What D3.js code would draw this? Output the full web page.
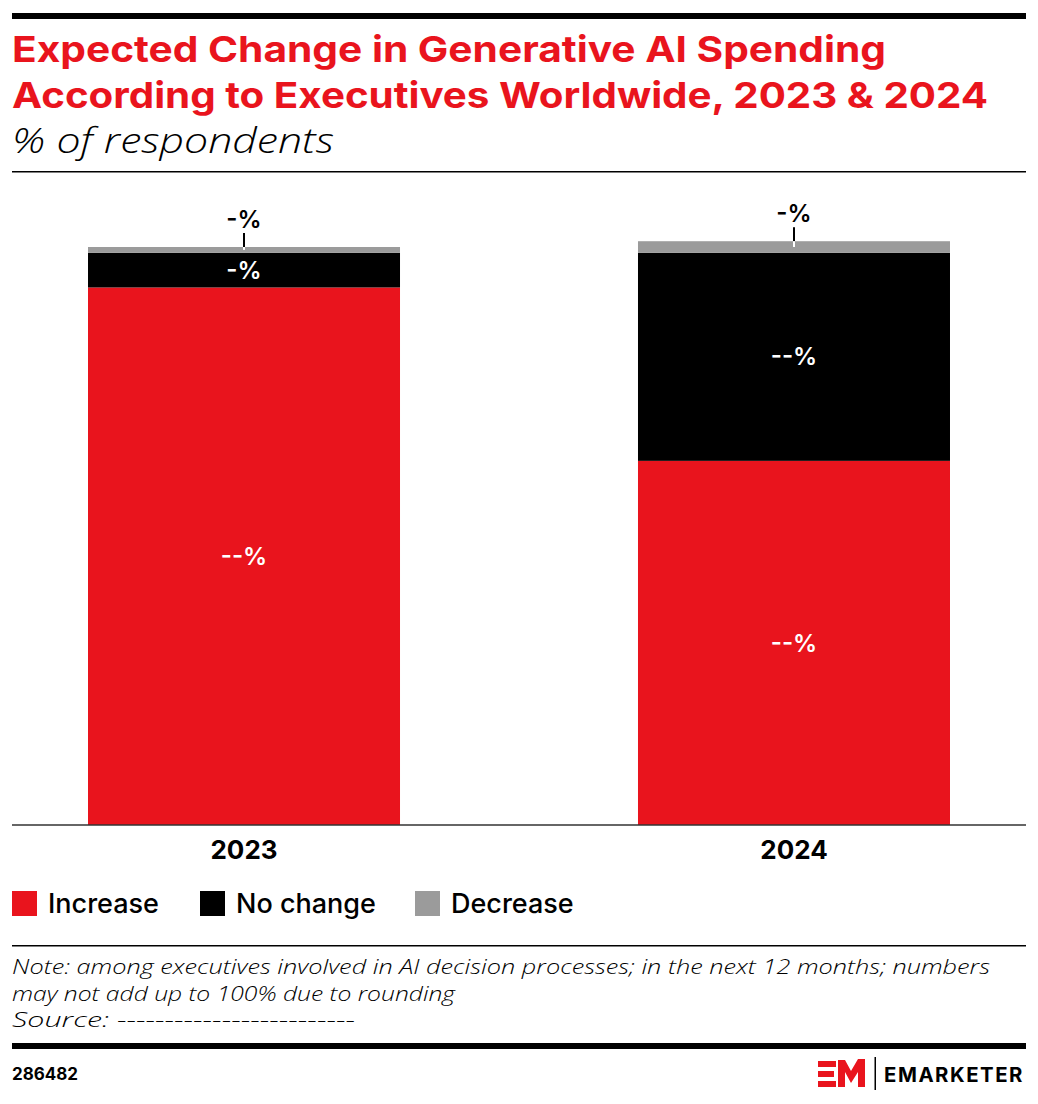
<!DOCTYPE html>
<html>
<head>
<meta charset="utf-8">
<script src="https://cdn.jsdelivr.net/npm/d3@7"></script>
<style>
  html, body { margin: 0; padding: 0; background: #fff; }
  svg { display: block; }
</style>
</head>
<body>
<svg id="chart" width="1038" height="1104"></svg>
<script>
// ---- data ----
const years = ["2023", "2024"];
const seriesNames = ["Increase", "No change", "Decrease"];
const increase = [93, 63];
const noChange = [6, 36];
const decrease = [1, 2];
const increaseLabels = ["--%", "--%"];
const noChangeLabels = ["-%", "--%"];
const decreaseLabels = ["-%", "-%"];
const seriesColors = ["#e9141d", "#000000", "#9b9b9b"];

const titleLines = ["Expected Change in Generative AI Spending",
                    "According to Executives Worldwide, 2023 & 2024"];
const subtitle = "% of respondents";
const noteLines = ["Note: among executives involved in AI decision processes; in the next 12 months; numbers",
                   "may not add up to 100% due to rounding",
                   "Source: -------------------------"];
const chartId = "286482";

// ---- setup ----
const svg = d3.select("#chart");
const FONT = "Inter, Roboto, sans-serif";
const IFONT = "'Open Sans', Lato, sans-serif";
const RED = "#e9141d";

function fitWidth(sel, w) {
  const node = sel.node();
  const cur = node.getComputedTextLength();
  if (Math.abs(cur - w) > 2) sel.attr("textLength", w).attr("lengthAdjust", "spacingAndGlyphs");
}

// top rule
svg.append("rect").attr("x", 12).attr("y", 13).attr("width", 1014).attr("height", 6).attr("fill", "#000");

// title
const titleTargets = [874, 976];
titleLines.forEach((t, i) => {
  const s = svg.append("text").attr("x", 12).attr("y", 62 + i * 46)
    .attr("font-family", FONT).attr("font-weight", 700).attr("font-size", 36)
    .attr("fill", RED).text(t);
  fitWidth(s, titleTargets[i]);
});
const sub = svg.append("text").attr("x", 12).attr("y", 153)
  .attr("font-family", IFONT).attr("font-style", "italic").attr("font-weight", 300)
  .attr("font-size", 34).attr("fill", "#000").text(subtitle);
fitWidth(sub, 322);

svg.append("rect").attr("x", 12).attr("y", 171).attr("width", 1014).attr("height", 1.5).attr("fill", "#000");

// ---- scales ----
const x = d3.scaleBand().domain(years).range([12, 1026]).paddingInner(0.4327).paddingOuter(0.1382);
const y = d3.scaleLinear().domain([0, 100]).range([825, 247]);

const rows = years.map((yr, i) => ({
  year: yr, "Increase": increase[i], "No change": noChange[i], "Decrease": decrease[i],
  labels: [increaseLabels[i], noChangeLabels[i], decreaseLabels[i]]
}));
const stacked = d3.stack().keys(seriesNames)(rows);

const g = svg.append("g");
stacked.forEach((layer, si) => {
  g.selectAll(null).data(layer).enter().append("rect")
    .attr("x", d => x(d.data.year))
    .attr("width", x.bandwidth())
    .attr("y", d => y(d[1]))
    .attr("height", d => y(d[0]) - y(d[1]))
    .attr("fill", seriesColors[si]);
});

// inside labels (Increase, No change)
[0, 1].forEach(si => {
  g.selectAll(null).data(stacked[si]).enter().append("text")
    .attr("x", d => x(d.data.year) + x.bandwidth() / 2)
    .attr("y", d => (y(d[0]) + y(d[1])) / 2)
    .attr("dy", "0.36em")
    .attr("text-anchor", "middle")
    .attr("font-family", FONT).attr("font-weight", 600).attr("font-size", 24)
    .attr("fill", "#fff")
    .text(d => d.data.labels[si]);
});

// Decrease labels outside with leader line
stacked[2].forEach(d => {
  const cx = x(d.data.year) + x.bandwidth() / 2;
  const top = y(d[1]);
  const mid = (y(d[0]) + y(d[1])) / 2;
  g.append("line").attr("x1", cx).attr("x2", cx).attr("y1", top - 14).attr("y2", top)
    .attr("stroke", "#000").attr("stroke-width", 2);
  g.append("line").attr("x1", cx).attr("x2", cx).attr("y1", top).attr("y2", mid)
    .attr("stroke", "#fff").attr("stroke-width", 2);
  g.append("text").attr("x", cx).attr("y", top - 19)
    .attr("text-anchor", "middle")
    .attr("font-family", FONT).attr("font-weight", 600).attr("font-size", 24)
    .attr("fill", "#000").text(d.data.labels[2]);
});

// x axis
const xAxis = svg.append("g").attr("transform", "translate(0,825)")
  .call(d3.axisBottom(x).tickSize(0).tickPadding(0));
xAxis.select(".domain").attr("d", "M12,0H1026").attr("stroke", "#333").attr("stroke-width", 1.5);
xAxis.selectAll(".tick text")
  .attr("y", 34).attr("dy", 0)
  .attr("font-family", FONT).attr("font-weight", 700).attr("font-size", 26).attr("fill", "#000");

// legend
const legendX = [12, 200, 415];
seriesNames.forEach((s, i) => {
  svg.append("rect").attr("x", legendX[i]).attr("y", 891).attr("width", 25).attr("height", 25)
    .attr("fill", seriesColors[i]);
  svg.append("text").attr("x", legendX[i] + 36).attr("y", 913)
    .attr("font-family", FONT).attr("font-weight", 500).attr("font-size", 27)
    .attr("fill", "#000").text(s);
});

// note
svg.append("rect").attr("x", 12).attr("y", 945).attr("width", 1014).attr("height", 1.5).attr("fill", "#000");
const noteTargets = [978, 443, 343];
noteLines.forEach((t, i) => {
  const s = svg.append("text").attr("x", 12).attr("y", 974 + i * 26.5)
    .attr("font-family", IFONT).attr("font-style", "italic").attr("font-weight", 300)
    .attr("font-size", 21).attr("fill", "#000").text(t);
  fitWidth(s, noteTargets[i]);
});

// bottom rule
svg.append("rect").attr("x", 12).attr("y", 1043).attr("width", 1014).attr("height", 6).attr("fill", "#000");

svg.append("text").attr("x", 12).attr("y", 1080)
  .attr("font-family", FONT).attr("font-weight", 700).attr("font-size", 17)
  .attr("fill", "#000").text(chartId);

// logo
const logo = svg.append("g");
logo.append("rect").attr("x", 818).attr("y", 1061).attr("width", 18).attr("height", 6).attr("fill", RED);
logo.append("rect").attr("x", 818).attr("y", 1071).attr("width", 16).attr("height", 6).attr("fill", RED);
logo.append("rect").attr("x", 818).attr("y", 1081).attr("width", 18).attr("height", 6).attr("fill", RED);
logo.append("path")
  .attr("d", "M838,1060 L845,1060 L851,1071 L858,1059 L865,1059 L865,1087 L858,1087 L858,1072 L851,1083 L845,1072 L845,1087 L838,1087 Z")
  .attr("fill", RED);
logo.append("rect").attr("x", 874.5).attr("y", 1057).attr("width", 1.5).attr("height", 33).attr("fill", "#000");
const em = logo.append("text").attr("x", 884).attr("y", 1082)
  .attr("font-family", FONT).attr("font-weight", 700).attr("font-size", 20)
  .attr("letter-spacing", 1.5).attr("fill", "#000").text("EMARKETER");
fitWidth(em, 140);
</script>
</body>
</html>
